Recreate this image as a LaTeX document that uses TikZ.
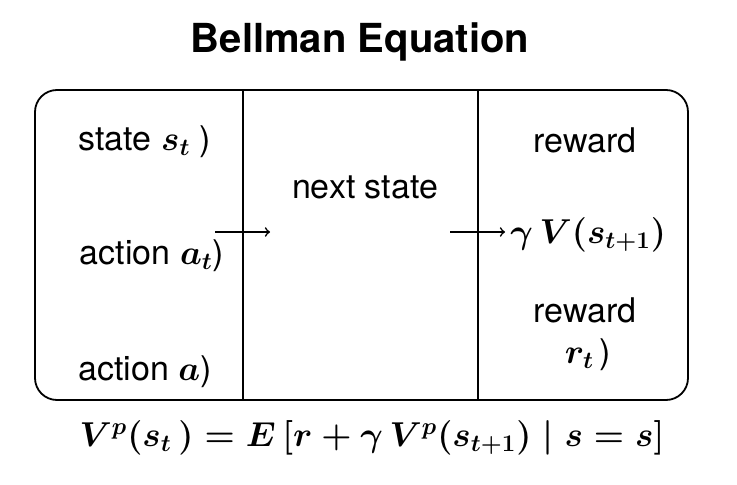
\documentclass[tikz,border=0pt]{standalone}
\usepackage{fontspec}
\setmainfont{TeX Gyre Heros}
\begin{document}
\begin{tikzpicture}[x=0.5pt,y=-0.5pt,
  lbl/.style={font=\fontsize{17}{20}\selectfont\boldmath, inner sep=0pt},
  ttl/.style={font=\fontsize{20}{24}\selectfont\bfseries, inner sep=0pt}]
\useasboundingbox (0,0) rectangle (737,485);
%%
\draw[line width=0.9pt, rounded corners=11pt] (35,90) rectangle (688,400);
\draw[line width=0.9pt] (243,90) -- (243,400);
\draw[line width=0.9pt] (478,90) -- (478,400);
%%
\node[ttl] (title) at (360,42) {Bellman Equation};
\node[lbl] (state) at (145,142) {state $s_t$ )};
\node[lbl] (actT) at (152,256) {action $a_t$)};
\node[lbl] (act) at (145,372) {action $a$)};
\node[lbl] (next) at (365,187) {next state};
\node[lbl] (rew1) at (585,140) {reward};
\node[lbl, anchor=west, font=\fontsize{18.5}{22}\selectfont\boldmath] (val) at (510,235) {$\gamma\, V(s_{t+1})$};
\node[lbl] (rew2) at (585,310) {reward};
\node[lbl] (rt) at (588,355) {$r_t$\,)};
\node[lbl, font=\fontsize{18.5}{22}\selectfont\boldmath] (eq) at (372,438) {$V^p(s_t\,) = E\,[r + \gamma\,V^p(s_{t+1})\mid s = s]$};
%%
\coordinate (a1) at (215,232);
\coordinate (a2) at (270,232);
\coordinate (b1) at (450,232);
\coordinate (b2) at (505,232);
\draw[->, line width=0.8pt] (a1) -- (a2);
\draw[->, line width=0.8pt] (b1) -- (b2);
\end{tikzpicture}
\end{document}
